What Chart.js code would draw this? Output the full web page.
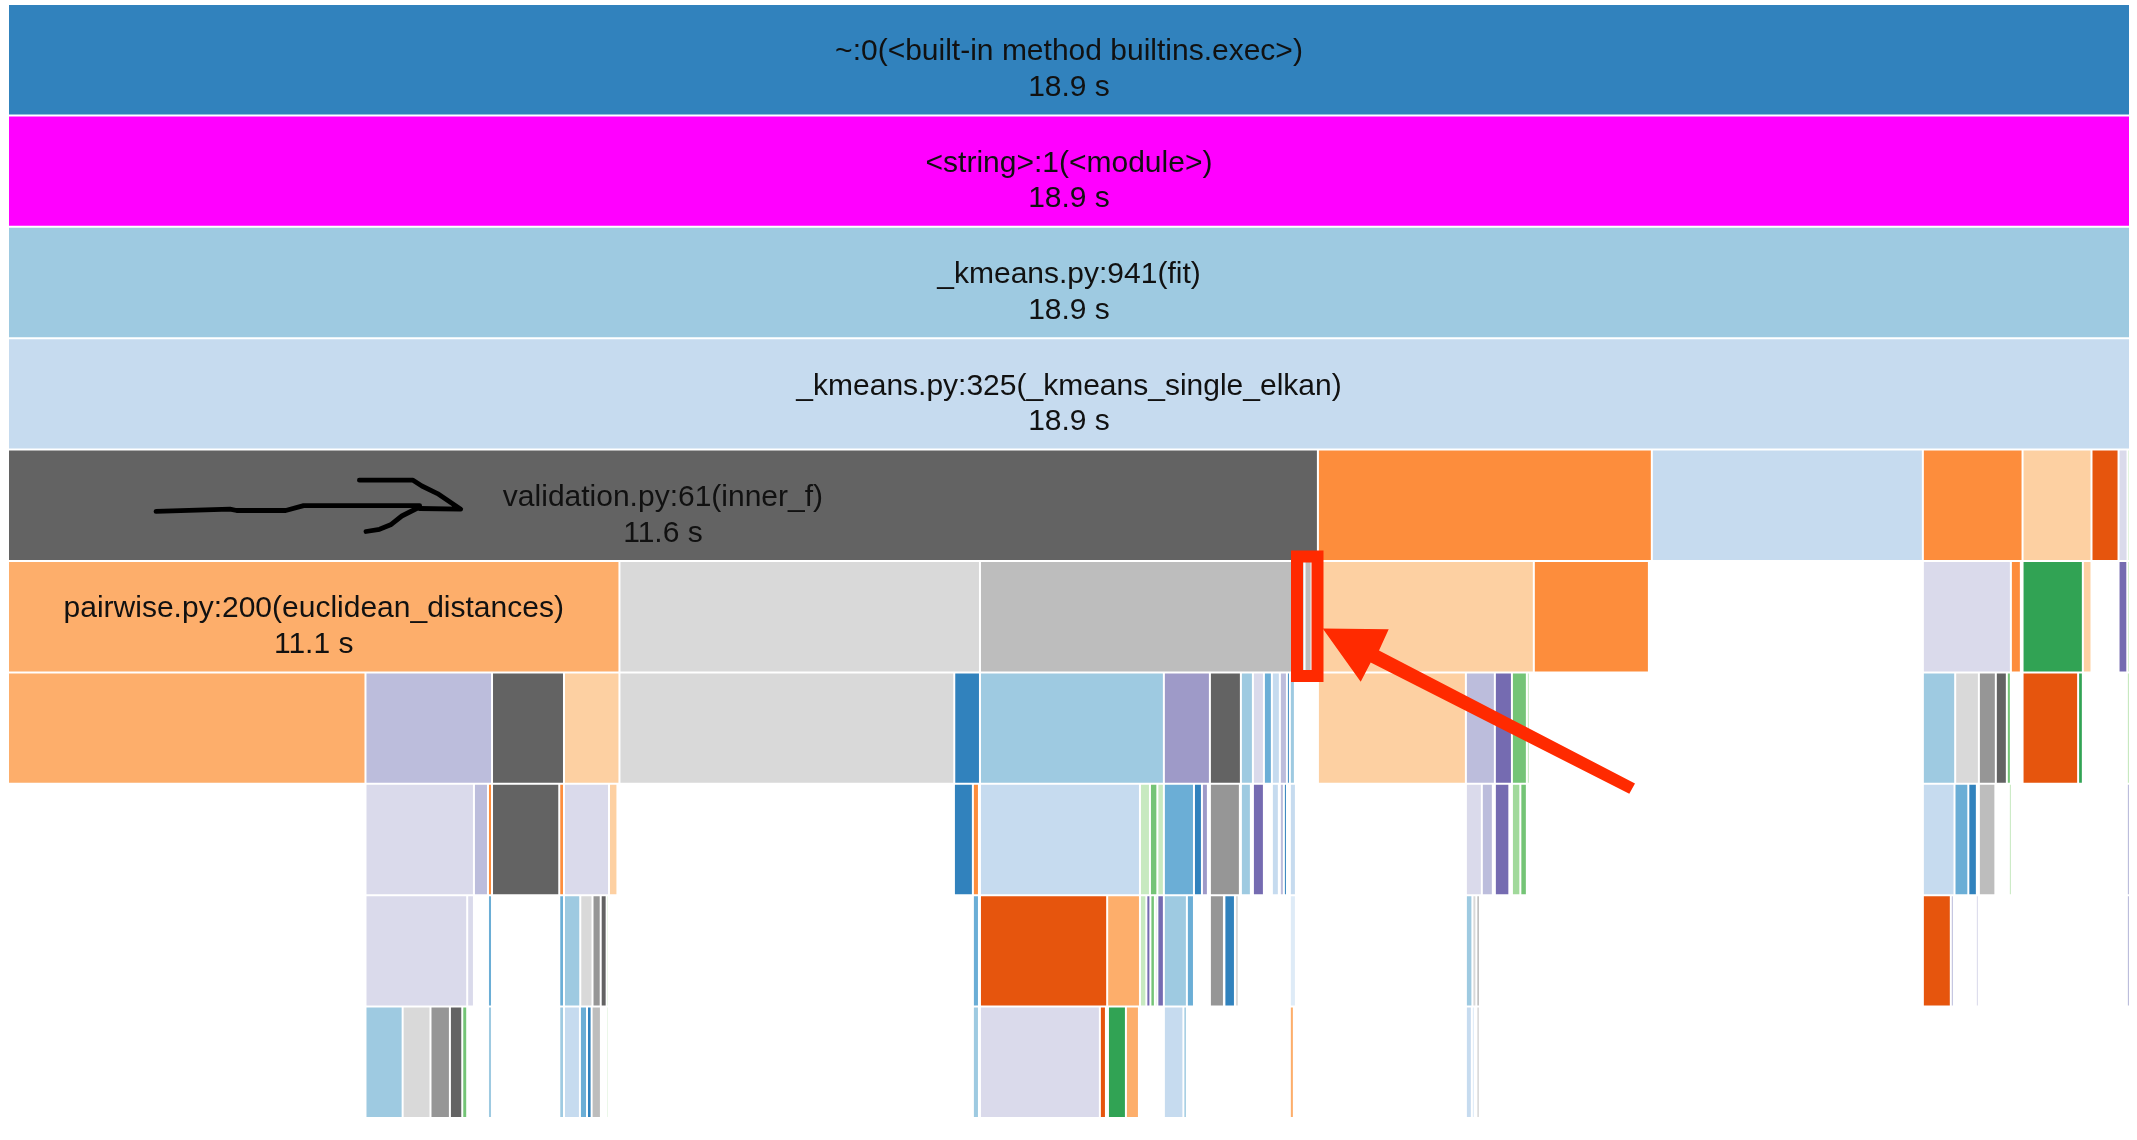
<!DOCTYPE html>
<html>
<head>
<meta charset="utf-8">
<style>html,body{margin:0;padding:0;background:#fff}canvas{display:block}</style>
<script src="https://cdn.jsdelivr.net/npm/chart.js@4"></script>
</head>
<body>
<canvas id="c" width="2137" height="1140"></canvas>
<script>
const TOTAL_SECONDS = 18.9;
const depthNames = ['d0','d1','d2','d3','d4','d5','d6','d7','d8','d9'];

// Frame spans in seconds
const d0Start = [0], d0End = [18.9], d0Tone = ['b0'];
const d1Start = [0], d1End = [18.9], d1Tone = ['m'];
const d2Start = [0], d2End = [18.9], d2Tone = ['b2'];
const d3Start = [0], d3End = [18.9], d3Tone = ['b3'];

const d4Start = [0, 11.667, 14.641, 17.055, 17.943, 18.557, 18.798, 18.878];
const d4End   = [11.667, 14.641, 17.055, 17.943, 18.557, 18.798, 18.878, 18.9];
const d4Tone  = ['k0','o1','b3','o1','o3','o0','p3','g3'];

const d5Start = [0, 5.446, 8.657, 11.548, 11.667, 13.590, 17.055, 17.839, 17.943, 18.480, 18.798, 18.876];
const d5End   = [5.446, 8.657, 11.548, 11.611, 13.590, 14.615, 17.839, 17.928, 18.480, 18.557, 18.876, 18.9];
const d5Tone  = ['o2','k3','k2','k2','o3','o1','p3','o1','g0','o3','p0','g3'];

const d6Start = [0, 3.184, 4.311, 4.952, 5.446, 8.428, 8.657, 10.295, 10.705, 10.981, 11.088, 11.186, 11.257, 11.328, 11.391, 11.417, 11.462, 11.667, 12.985, 13.243, 13.395, 13.528, 17.055, 17.343, 17.554, 17.705, 17.803, 17.943, 18.438, 18.872];
const d6End   = [3.184, 4.311, 4.952, 5.446, 8.428, 8.657, 10.295, 10.705, 10.981, 11.088, 11.186, 11.257, 11.328, 11.391, 11.417, 11.462, 11.475, 12.985, 13.243, 13.395, 13.528, 13.555, 17.343, 17.554, 17.705, 17.803, 17.839, 18.438, 18.480, 18.9];
const d6Tone  = ['o2','p2','k0','o3','k3','b0','b2','p1','k0','b2','p3','b1','b3','p2','b0','b2','o3','o3','p2','p0','g1','g3','b2','k3','k1','k0','g1','o0','g0','g3'];

const d7Start = [3.184, 4.150, 4.275, 4.311, 4.910, 4.952, 5.353, 8.425, 8.594, 8.657, 10.082, 10.171, 10.237, 10.295, 10.563, 10.634, 10.705, 10.981, 11.088, 11.257, 11.328, 11.364, 11.417, 12.985, 13.127, 13.243, 13.395, 13.470, 17.055, 17.337, 17.460, 17.554, 17.821, 18.872];
const d7End   = [4.150, 4.275, 4.311, 4.910, 4.952, 5.353, 5.428, 8.594, 8.648, 10.082, 10.171, 10.237, 10.295, 10.563, 10.634, 10.687, 10.972, 11.070, 11.186, 11.319, 11.364, 11.391, 11.471, 13.127, 13.225, 13.372, 13.470, 13.528, 17.337, 17.460, 17.536, 17.701, 17.848, 18.9];
const d7Tone  = ['p3','p2','o1','k0','o1','p3','o3','b0','o1','b3','g3','g1','g3','b1','b0','p1','k1','b2','p0','b3','p2','b0','b3','p3','p2','p0','g2','g1','b3','b1','b0','k2','g3','p2'];

const d8Start = [3.184, 4.090, 4.275, 4.910, 4.952, 5.097, 5.206, 5.279, 5.332, 8.594, 8.657, 9.790, 10.082, 10.139, 10.175, 10.215, 10.237, 10.295, 10.500, 10.705, 10.834, 10.928, 11.417, 12.985, 13.043, 13.078, 13.110, 17.055, 17.304, 17.527, 18.872];
const d8End   = [4.090, 4.150, 4.311, 4.952, 5.097, 5.206, 5.279, 5.332, 5.353, 8.648, 9.790, 10.082, 10.139, 10.175, 10.215, 10.237, 10.295, 10.500, 10.563, 10.830, 10.928, 10.963, 11.471, 13.043, 13.078, 13.110, 13.127, 17.304, 17.331, 17.554, 18.9];
const d8Tone  = ['p3','p3','b1','b1','b2','k3','k1','k0','g3','b1','o0','o2','g3','p0','g1','g3','p0','b2','b1','k1','b0','k3','b4','b2','k3','k2','g3','o0','p2','p3','p2'];

const d9Start = [3.184, 3.515, 3.763, 3.936, 4.046, 4.275, 4.910, 4.952, 5.094, 5.157, 5.198, 5.332, 8.594, 8.657, 9.725, 9.779, 9.797, 9.957, 10.295, 10.469, 11.417, 11.453, 12.985, 13.038, 13.078];
const d9End   = [3.515, 3.763, 3.936, 4.046, 4.090, 4.311, 4.952, 5.094, 5.157, 5.198, 5.281, 5.353, 8.648, 9.725, 9.779, 9.797, 9.957, 10.073, 10.469, 10.500, 11.453, 11.471, 13.038, 13.065, 13.110];
const d9Tone  = ['b2','k3','k1','k0','g1','b2','b2','b3','b1','b0','k2','g3','b2','p3','o0','g3','g0','o2','b3','b2','o2','b4','b3','b4','k3'];

// Labelled frames: depth index -> text lines, centred on the first frame of that depth
const labelDepths = [0, 1, 2, 3, 4, 5];
const labelNames = ['~:0(<built-in method builtins.exec>)','<string>:1(<module>)','_kmeans.py:941(fit)','_kmeans.py:325(_kmeans_single_elkan)','validation.py:61(inner_f)','pairwise.py:200(euclidean_distances)'];
const labelTimes = ['18.9 s','18.9 s','18.9 s','18.9 s','11.6 s','11.1 s'];

const palette = {
  b0:'#3182bd', b1:'#6baed6', b2:'#9ecae1', b3:'#c6dbef', b4:'#deebf7',
  o0:'#e6550d', o1:'#fd8d3c', o2:'#fdae6b', o3:'#fdd0a2',
  g0:'#31a354', g1:'#74c476', g2:'#a1d99b', g3:'#c7e9c0',
  p0:'#756bb1', p1:'#9e9ac8', p2:'#bcbddc', p3:'#dadaeb',
  k0:'#636363', k1:'#969696', k2:'#bdbdbd', k3:'#d9d9d9',
  m:'#ff00ff'
};

const starts = [d0Start,d1Start,d2Start,d3Start,d4Start,d5Start,d6Start,d7Start,d8Start,d9Start];
const ends   = [d0End,d1End,d2End,d3End,d4End,d5End,d6End,d7End,d8End,d9End];
const tones  = [d0Tone,d1Tone,d2Tone,d3Tone,d4Tone,d5Tone,d6Tone,d7Tone,d8Tone,d9Tone];

const points = [], colors = [];
depthNames.forEach((name, d) => {
  starts[d].forEach((s, i) => {
    points.push({x:[s, ends[d][i]], y:name});
    colors.push(palette[tones[d][i]]);
  });
});

const frameLabels = {
  id:'frameLabels',
  afterDatasetsDraw(chart){
    const {ctx, scales:{x, y}} = chart;
    ctx.save();
    ctx.fillStyle = '#111';
    ctx.font = '30px "Liberation Sans", Arial, sans-serif';
    ctx.textAlign = 'center';
    ctx.textBaseline = 'middle';
    labelDepths.forEach((d, i) => {
      const cx = x.getPixelForValue((starts[d][0] + ends[d][0]) / 2);
      const cy = y.getPixelForValue(d);
      ctx.fillText(labelNames[i], cx, cy - 7.5);
      ctx.fillText(labelTimes[i], cx, cy + 28);
    });
    ctx.restore();
  }
};

// Hand-made annotations that sit on top of the chart picture
const annotations = {
  id:'annotations',
  afterDraw(chart){
    const ctx = chart.ctx;
    ctx.save();
    const red = '#ff2a00';
    ctx.strokeStyle = red;
    ctx.lineWidth = 12;
    ctx.strokeRect(1297, 556.5, 20.5, 119.5);
    ctx.fillStyle = red;
    ctx.beginPath();
    [[1322.7,628.5],[1388.7,629.3],[1379,650.4],[1635,783.6],[1629.3,793.8],[1370.7,662.5],[1360.7,681.8]]
      .forEach((p,i)=> i ? ctx.lineTo(p[0],p[1]) : ctx.moveTo(p[0],p[1]));
    ctx.closePath();
    ctx.fill();
    ctx.strokeStyle = '#000';
    ctx.lineWidth = 4.8;
    ctx.lineCap = 'round';
    ctx.lineJoin = 'round';
    [
      [[156,511.4],[230,509.2],[236.6,510.5],[285.7,510.5],[303.6,505.6],[419.6,505.6]],
      [[359.4,480.2],[413,480.2],[421.9,486],[437.5,493.6],[460.7,509.2],[419.6,508.5]],
      [[419.6,507],[401.8,516],[390.6,524.8],[379.5,529.3],[366,531.5]]
    ].forEach(path => {
      ctx.beginPath();
      path.forEach((p,i)=> i ? ctx.lineTo(p[0],p[1]) : ctx.moveTo(p[0],p[1]));
      ctx.stroke();
    });
    ctx.restore();
  }
};

new Chart(document.getElementById('c'), {
  type:'bar',
  data:{
    labels:depthNames,
    datasets:[{
      data:points,
      backgroundColor:colors,
      borderColor:'#ffffff',
      borderWidth:1,
      borderSkipped:false,
      inflateAmount:0,
      barPercentage:1,
      categoryPercentage:1
    }]
  },
  options:{
    indexAxis:'y',
    responsive:false,
    animation:false,
    devicePixelRatio:1,
    layout:{padding:{left:8,right:7,top:4,bottom:22}},
    plugins:{legend:{display:false},tooltip:{enabled:false}},
    scales:{
      x:{type:'linear',min:0,max:TOTAL_SECONDS,display:false},
      y:{type:'category',labels:depthNames,offset:true,display:false}
    }
  },
  plugins:[frameLabels, annotations]
});
</script>
</body>
</html>
